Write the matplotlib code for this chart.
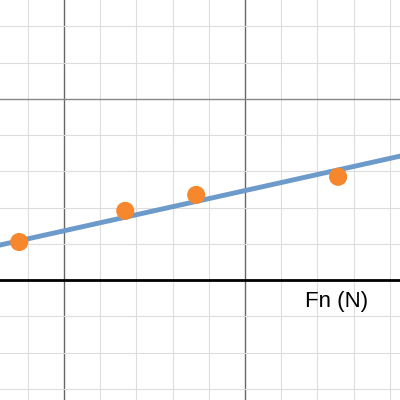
import matplotlib
matplotlib.use("Agg")
import matplotlib.pyplot as plt
import numpy as np

# data points (Fn vs friction)
fn_vals = [3.76, 6.69, 8.65, 12.57]
f_vals = [1.05, 1.91, 2.35, 2.85]
slope = 0.222
intercept = 0.25

xmin, xmax = 3.23, 14.28
ymin, ymax = -3.31, 7.73

fig = plt.figure(figsize=(4, 4), dpi=100)
ax = fig.add_axes([0, 0, 1, 1])
ax.set_xlim(xmin, xmax)
ax.set_ylim(ymin, ymax)

for x in np.arange(4, 15):
    major = x % 5 == 0
    ax.axvline(x, color="#666666" if major else "#dddddd", lw=1.0 if major else 0.8, zorder=0)
for y in np.arange(-3, 8):
    if y == 0:
        continue
    major = y % 5 == 0
    ax.axhline(y, color="#888888" if major else "#dddddd", lw=1.0 if major else 0.8, zorder=0)
ax.axhline(0, color="black", lw=2, zorder=1)

xs = np.array([xmin, xmax])
ax.plot(xs, slope * xs + intercept, color="#6b9acb", lw=3.5, zorder=2)
ax.scatter(fn_vals, f_vals, s=170, color="#f7872c", zorder=3, edgecolors="none")

ax.text(13.4, -0.3, "Fn (N)", fontsize=16, ha="right", va="top", family="Liberation Sans")
ax.axis("off")
fig.savefig("out.png", dpi=100)
